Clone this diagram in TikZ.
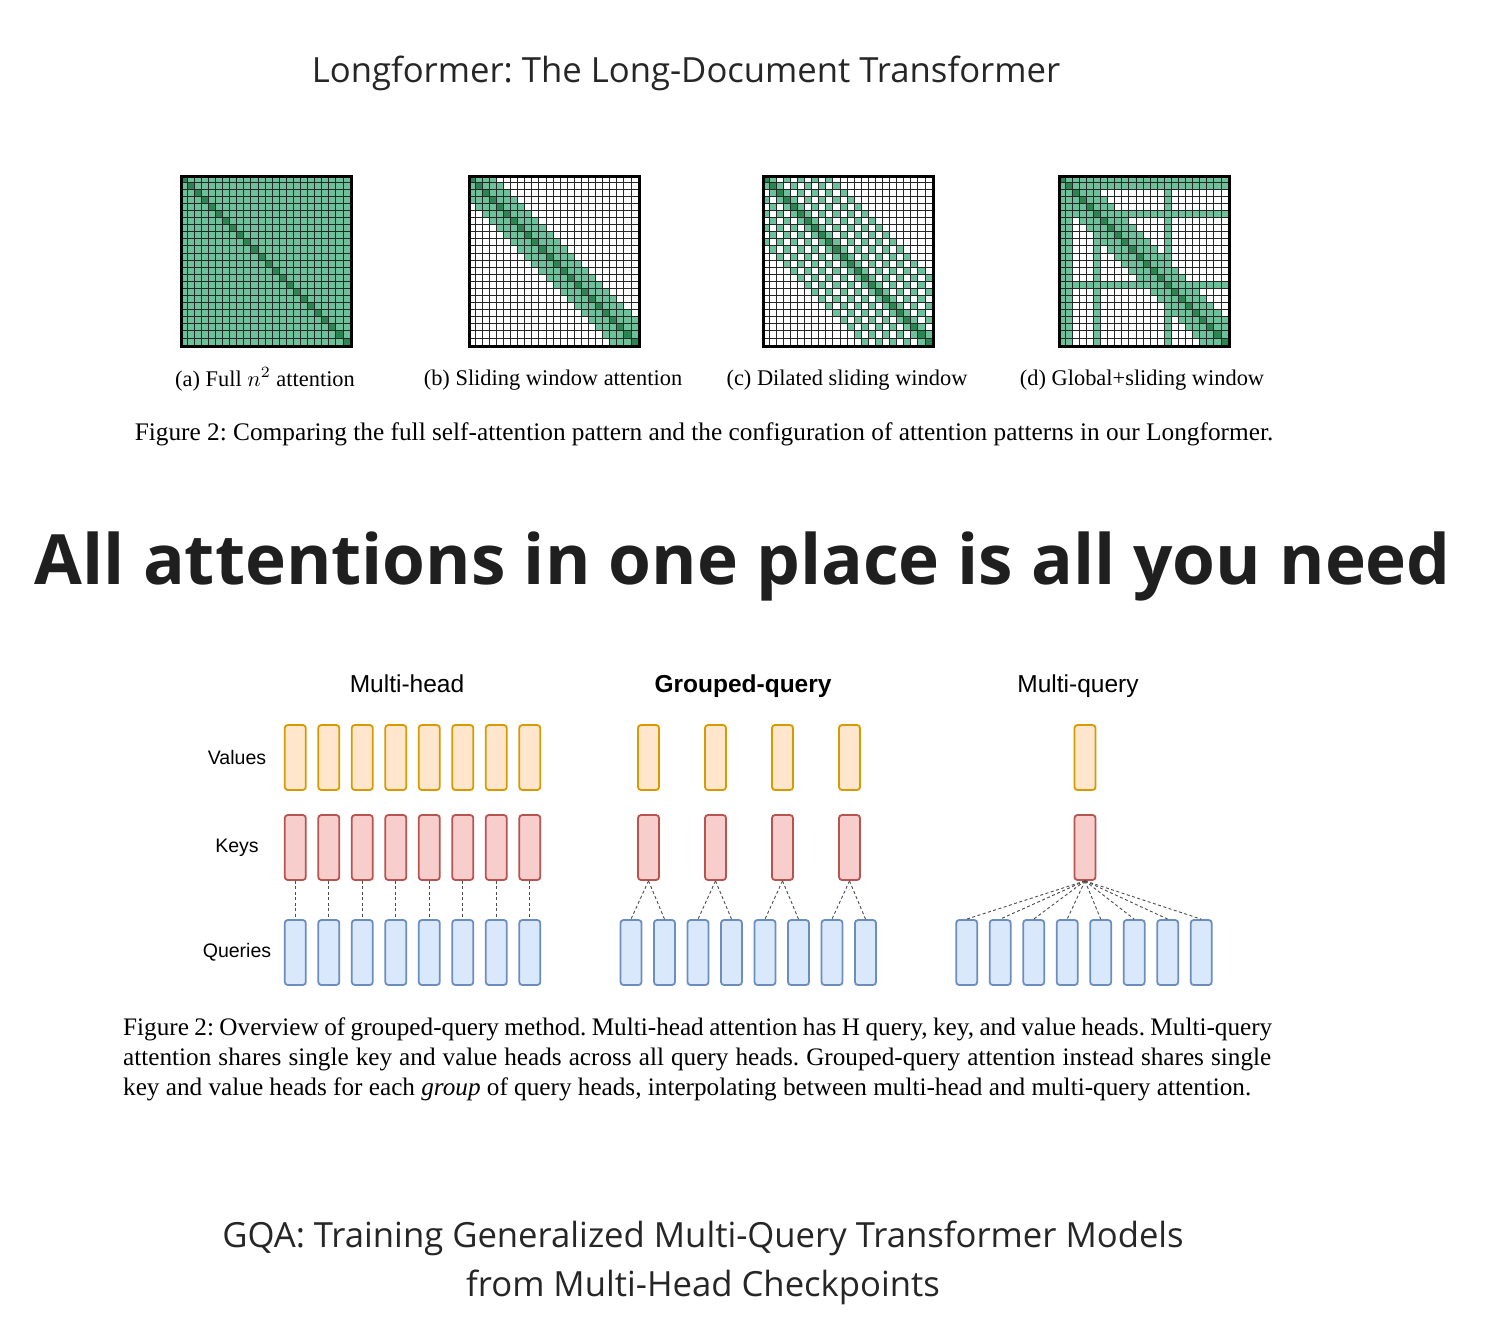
\documentclass[tikz,border=0pt]{standalone}
\usepackage{fontspec}
\setmainfont{Liberation Serif}
\newfontfamily\osans{Open Sans}
\newfontfamily\arialf{Liberation Sans}
\frenchspacing
\definecolor{lg}{HTML}{6CC09A}
\definecolor{dg}{HTML}{2A8550}
\definecolor{vfill}{HTML}{FFE6CC}
\definecolor{vstroke}{HTML}{D79B00}
\definecolor{kfill}{HTML}{F8CECC}
\definecolor{kstroke}{HTML}{B85450}
\definecolor{qfill}{HTML}{DAE8FC}
\definecolor{qstroke}{HTML}{6C8EBF}
\def\cs{7.0833}
\newcommand{\attnmatrix}[3]{%
  \begin{scope}[shift={(#2,175)}]
    \foreach \ri in {0,...,23}{\foreach \ci in {0,...,23}{
      \pgfmathtruncatemacro\cellcode{(\ci==\ri)?2:((#3)?1:0)}
      \ifnum\cellcode=2 \fill[dg] (\ci*\cs,\ri*\cs) rectangle ++(\cs,\cs);\fi
      \ifnum\cellcode=1 \fill[lg] (\ci*\cs,\ri*\cs) rectangle ++(\cs,\cs);\fi
    }}
    \foreach \k in {1,...,23}{
      \draw[gridln] (\k*\cs,0) -- (\k*\cs,170);
      \draw[gridln] (0,\k*\cs) -- (170,\k*\cs);
    }
    \node[draw, line width=3bp, minimum width=170bp, minimum height=170bp, inner sep=0pt, anchor=north west] (#1) at (0,0) {};
  \end{scope}}
\begin{document}
\begin{tikzpicture}[x=1bp,y=-1bp,
  gridln/.style={draw=black!85, line width=0.75bp},
  hbox/.style={draw, rounded corners=3bp, line width=1.8bp, minimum width=21bp, minimum height=65bp, inner sep=0pt},
  vbox/.style={hbox, draw=vstroke, fill=vfill},
  kbox/.style={hbox, draw=kstroke, fill=kfill},
  qbox/.style={hbox, draw=qstroke, fill=qfill},
  link/.style={draw=black!70, line width=0.9bp, dash pattern=on 3bp off 2.5bp},
  title/.style={anchor=base, font={\osans\fontsize{34.8}{40}\selectfont}, text=black!85},
  subcap/.style={anchor=base, font={\fontsize{22.5}{26}\selectfont}},
  capline/.style={anchor=base west, inner sep=0pt, font={\fontsize{25.3}{28}\selectfont}},
  colhead/.style={anchor=base, font={\arialf\fontsize{24.6}{28}\selectfont}},
  rowlab/.style={font={\arialf\fontsize{19.6}{24}\selectfont}}
]
\useasboundingbox (0,0) rectangle (1492,1332);
\fill[white] (0,0) rectangle (1492,1332);

\node[title] (ltitle) at (686,83) {Longformer: The Long-Document Transformer};

\attnmatrix{ma}{180}{1}
\attnmatrix{mb}{468}{abs(\ci-\ri)<=3}
\attnmatrix{mc}{762}{abs(\ci-\ri)<=9 && mod(abs(\ci-\ri),2)==1}
\attnmatrix{md}{1058}{abs(\ci-\ri)<=3 || \ri<=1 || \ci<=1 || \ri==5 || \ci==5 || \ri==15 || \ci==15}

\node[subcap] (capa) at (265,386) {(a) Full {\fontsize{10}{12}\selectfont\raisebox{0pt}{\scalebox{2.25}{$n^2$}}} attention};
\node[subcap] (capb) at (553,385) {(b) Sliding window attention};
\node[subcap] (capc) at (847,385) {(c) Dilated sliding window};
\node[subcap] (capd) at (1142,385) {(d) Global+sliding window};
\node[anchor=base, font={\fontsize{25.4}{28}\selectfont}] (lcap) at (704,440) {Figure 2: Comparing the full self-attention pattern and the configuration of attention patterns in our Longformer.};

\node[anchor=base, font={\osans\bfseries\fontsize{69.6}{80}\selectfont}, text=black!88] (heading) at (743,584) {All attentions in one place is all you need};

\node[colhead] (hmh) at (407,692) {Multi-head};
\node[colhead, font={\arialf\bfseries\fontsize{24.6}{28}\selectfont}] (hgq) at (743,692) {Grouped-query};
\node[colhead] (hmq) at (1078,692) {Multi-query};

\node[rowlab] (lv) at (237,757.5) {Values};
\node[rowlab] (lk) at (237,847.5) {Keys};
\node[rowlab] (lq) at (237,952.5) {Queries};

% Multi-head
\foreach \i in {1,...,8}{
  \pgfmathsetmacro\xx{295.3+33.5*(\i-1)}
  \node[vbox] (mhv\i) at (\xx,757.5) {};
  \node[kbox] (mhk\i) at (\xx,847.5) {};
  \node[qbox] (mhq\i) at (\xx,952.5) {};
  \draw[link] (mhk\i.south) -- (mhq\i.north);
}
% Grouped-query
\foreach \j in {1,...,4}{
  \pgfmathsetmacro\xx{648.5+67*(\j-1)}
  \node[vbox] (gqv\j) at (\xx,757.5) {};
  \node[kbox] (gqk\j) at (\xx,847.5) {};
}
\foreach \i in {1,...,8}{
  \pgfmathsetmacro\xx{631+33.5*(\i-1)}
  \node[qbox] (gqq\i) at (\xx,952.5) {};
}
\foreach \j/\a/\b in {1/1/2,2/3/4,3/5/6,4/7/8}{
  \draw[link] (gqk\j.south) -- (gqq\a.north);
  \draw[link] (gqk\j.south) -- (gqq\b.north);
}
% Multi-query
\node[vbox] (mqv) at (1085,757.5) {};
\node[kbox] (mqk) at (1085,847.5) {};
\foreach \i in {1,...,8}{
  \pgfmathsetmacro\xx{966.7+33.5*(\i-1)}
  \node[qbox] (mqq\i) at (\xx,952.5) {};
  \draw[link] (mqk.south) -- (mqq\i.north);
}

\node[capline] (g1) at (123,1035) {\makebox[1149bp][s]{Figure 2: Overview of grouped-query method. Multi-head attention has H query, key, and value heads. Multi-query}};
\node[capline] (g2) at (123,1065) {\makebox[1148bp][s]{attention shares single key and value heads across all query heads. Grouped-query attention instead shares single}};
\node[capline] (g3) at (123,1095) {key and value heads for each \textit{group} of query heads, interpolating between multi-head and multi-query attention.};

\node[title] (gt1) at (703,1247) {GQA: Training Generalized Multi-Query Transformer Models};
\node[title] (gt2) at (703,1296) {from Multi-Head Checkpoints};
\end{tikzpicture}
\end{document}
